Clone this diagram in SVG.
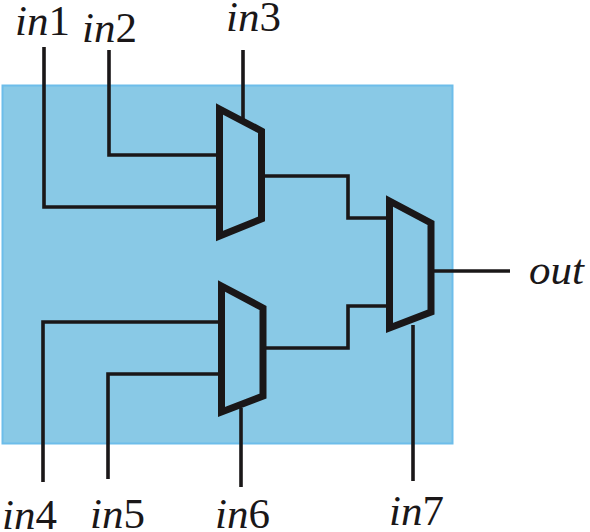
<svg xmlns="http://www.w3.org/2000/svg" width="590" height="532" viewBox="0 0 590 532">
<style>
.w{fill:none;stroke:#1a1718;stroke-width:3.6}
.m{fill:none;stroke:#1a1718;stroke-width:7}
text{font-family:'Liberation Serif','Times New Roman',serif;font-size:43px;fill:#1a1718}
.i{font-style:italic}
</style>
<rect width="590" height="532" fill="#fff"/>
<rect id="panel" x="2.5" y="85.5" width="450" height="358" fill="#89c9e6" stroke="#6dbdea" stroke-width="2"/>
<g id="connectors">
<path class="w" d="M44 47V207H218"/>
<path class="w" d="M109 50V155H218"/>
<path class="w" d="M243 50V119"/>
<path class="w" d="M43 482V322H220"/>
<path class="w" d="M108 479V374H220"/>
<path class="w" d="M241 487V408"/>
<path class="w" d="M264 176H348V218H388"/>
<path class="w" d="M265 348H348V306H388"/>
<path class="w" d="M413 325V481"/>
<path class="w" d="M433 271H510"/>
</g>
<g id="mux1"><path class="m" d="M219.500 109L261.500 131V219L219.500 236Z"/></g>
<g id="mux2"><path class="m" d="M221.500 286L263 308V396L221.500 412Z"/></g>
<g id="mux3"><path class="m" d="M389.500 201L431 223V312L389.500 328Z"/></g>
<g id="in1"><text x="15" y="35"><tspan class="i">in</tspan>1</text></g>
<g id="in2"><text x="82" y="42"><tspan class="i">in</tspan>2</text></g>
<g id="in3"><text x="226" y="31"><tspan class="i">in</tspan>3</text></g>
<g id="in4"><text x="2" y="529"><tspan class="i">in</tspan>4</text></g>
<g id="in5"><text x="90" y="528"><tspan class="i">in</tspan>5</text></g>
<g id="in6"><text x="215" y="528"><tspan class="i">in</tspan>6</text></g>
<g id="in7"><text x="389" y="525"><tspan class="i">in</tspan>7</text></g>
<g id="out"><text class="i" x="529" y="284">out</text></g>
</svg>
